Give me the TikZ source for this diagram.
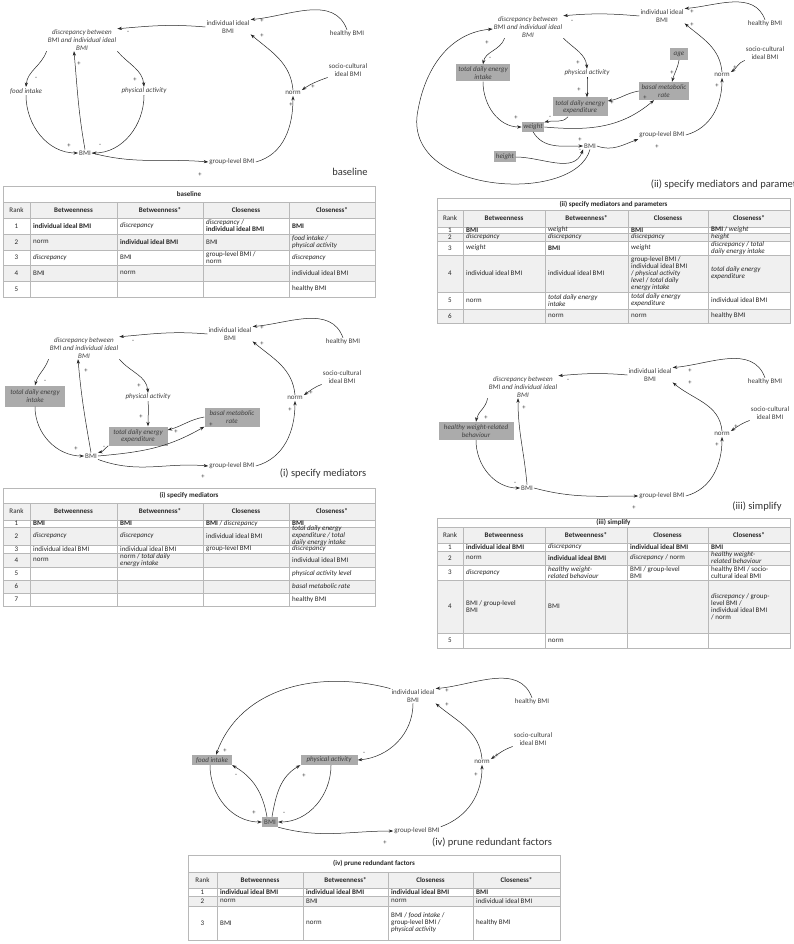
\documentclass[tikz,border=0pt]{standalone}
\usepackage{fontspec}
\setmainfont{Carlito}
\usetikzlibrary{arrows.meta}
\tikzset{
 txt/.style={font=\fontsize{7}{7.6}\selectfont, text=black!75, align=center, inner sep=1pt},
 itx/.style={txt, font=\fontsize{7}{7.6}\selectfont\itshape},
 gbox/.style={itx, fill=black!33, inner sep=1.5pt},
 arr/.style={-{Stealth[length=4.5pt,width=3.2pt]}, black!85, line width=0.5pt},
 sgn/.style={font=\fontsize{6.5}{7}\selectfont, text=black!80, inner sep=0pt},
 lbl/.style={font=\fontsize{10.5}{12}\selectfont, text=black!80, inner sep=0pt},
 tline/.style={draw=black!28, line width=0.6pt},
 tgray/.style={fill=black!6},
 ct/.style={anchor=west, align=left, font=\fontsize{7}{6.9}\selectfont, inner sep=0pt, text=black!85},
 rk/.style={align=center, font=\fontsize{7}{7}\selectfont, inner sep=0pt, text=black!85},
 thd/.style={align=center, font=\fontsize{7}{7}\selectfont\bfseries, inner sep=0pt, text=black!85}
}
\newcommand\sg[3]{\node[sgn] at (#1,-#2) {#3};}
\newcommand\setcols[6]{\def\Xa{#1}\def\Xb{#2}\def\Xc{#3}\def\Xd{#4}\def\Xe{#5}\def\Xf{#6}}
\newcommand\tgrid[4]{%
 \foreach \yy [count=\ii, remember=\yy as \py (initially 0)] in {#1} {%
   \ifodd\ii\relax\ifnum\ii>1\relax \fill[tgray] (\Xa,-\py) rectangle (\Xf,-\yy);\fi\fi}%
 \foreach \yy in {#1} {\draw[tline] (\Xa,-\yy) -- (\Xf,-\yy);}%
 \foreach \xx in {\Xb,\Xc,\Xd,\Xe} {\draw[tline] (\xx,-#3) -- (\xx,-#4);}%
 \draw[tline] (\Xa,-#2) rectangle (\Xf,-#4);%
}
\newcommand\ttitle[2]{\node[thd] at ({(\Xa+\Xf)/2},-#1) {#2};}
\newcommand\thead[1]{%
 \node[rk] at ({(\Xa+\Xb)/2},-#1) {Rank};
 \node[thd] at ({(\Xb+\Xc)/2},-#1) {Betweenness};
 \node[thd] at ({(\Xc+\Xd)/2},-#1) {Betweenness*};
 \node[thd] at ({(\Xd+\Xe)/2},-#1) {Closeness};
 \node[thd] at ({(\Xe+\Xf)/2},-#1) {Closeness*};}
\newcommand\trow[6]{%
 \node[rk] at ({(\Xa+\Xb)/2},-#1) {#2};
 \node[ct] at (\Xb+3,-#1) {#3};
 \node[ct] at (\Xc+3,-#1) {#4};
 \node[ct] at (\Xd+3,-#1) {#5};
 \node[ct] at (\Xe+3,-#1) {#6};}
\begin{document}
\begin{tikzpicture}[x=1pt,y=1pt]
\useasboundingbox (0,0) rectangle (794,-944);
\fill[white] (0,0) rectangle (794,-944);

% ===== baseline diagram
\node[txt] (b-ind) at (228,-27) {individual ideal\\BMI};
\node[itx] (b-dis) at (82,-40) {discrepancy between\\BMI and individual ideal\\BMI};
\node[txt] (b-hea) at (347,-34) {healthy BMI};
\node[txt] (b-soc) at (348,-70) {socio-cultural\\ideal BMI};
\node[txt] (b-nor) at (293,-93) {norm};
\node[itx] (b-foo) at (26,-91) {food intake};
\node[itx] (b-phy) at (144,-91) {physical activity};
\node[txt] (b-bmi) at (85,-153) {BMI};
\node[txt] (b-grp) at (232,-162) {group-level BMI};
\node[lbl] (b-lbl) at (350,-172) {baseline};
\draw[arr] (b-ind.west) to[out=175,in=5] (b-dis.north east); \sg{128}{32}{-}
\draw[arr] (b-hea.north) to[out=110,in=5] (b-ind.north east); \sg{262}{21}{+}
\draw[arr] (b-nor.north) to[out=95,in=-40] (b-ind.south east); \sg{262}{36}{+}
\draw[arr] (b-soc.south west) to[out=200,in=35] (b-nor.north east); \sg{313}{87}{+}
\draw[arr] (b-grp.east) to[out=15,in=-90] (b-nor.south); \sg{291}{105}{+}
\draw[arr] (b-bmi.east) to[out=-15,in=175] (b-grp.west); \sg{200}{175}{+}
\draw[arr] (b-bmi.north) to[out=100,in=-85] ([xshift=-8]b-dis.south); \sg{79}{64}{+}
\draw[arr] (b-dis.south west) to[out=-110,in=85] (b-foo.north); \sg{36}{78}{-}
\draw[arr] (b-dis.south east) to[out=-50,in=95] (b-phy.north); \sg{135}{80}{+}
\draw[arr] (b-foo.south) to[out=-90,in=180] (b-bmi.west); \sg{69}{146}{+}
\draw[arr] (b-phy.south) to[out=-90,in=0] (b-bmi.east); \sg{100}{145}{-}

% ===== baseline table
\setcols{3}{30}{117}{203}{289}{375}
\tgrid{186,202,218,234,250,265,281,297}{186}{202}{297}
\ttitle{194}{baseline}
\thead{210}
\trow{226}{1}{\textbf{individual ideal BMI}}{\textit{discrepancy}}{\textit{discrepancy} /\\\textbf{individual ideal BMI}}{\textbf{BMI}}
\trow{242}{2}{norm}{\textbf{individual ideal BMI}}{BMI}{\textit{food intake /}\\\textit{physical activity}}
\trow{257.5}{3}{\textit{discrepancy}}{BMI}{group-level BMI /\\norm}{\textit{discrepancy}}
\trow{273}{4}{BMI}{norm}{}{individual ideal BMI}
\trow{289}{5}{}{}{}{healthy BMI}

% ===== (i) diagram
\node[txt] (i-ind) at (230,-334) {individual ideal\\BMI};
\node[itx] (i-dis) at (84,-348) {discrepancy between\\BMI and individual ideal\\BMI};
\node[txt] (i-hea) at (343,-342) {healthy BMI};
\node[txt] (i-soc) at (342,-377) {socio-cultural\\ideal BMI};
\node[txt] (i-nor) at (295,-398) {norm};
\node[gbox, minimum width=60, minimum height=21] (i-tdi) at (35,-396) {total daily energy\\intake};
\node[itx] (i-phy) at (148,-397) {physical activity};
\node[gbox, minimum width=55, minimum height=19] (i-bmr) at (232,-417) {basal metabolic\\rate};
\node[gbox, minimum width=59, minimum height=19] (i-tde) at (138,-436) {total daily energy\\expenditure};
\node[txt] (i-bmi) at (91,-456) {BMI};
\node[txt] (i-grp) at (232,-466) {group-level BMI};
\node[lbl] (i-lbl) at (323,-474) {(i) specify mediators};
\draw[arr] (i-ind.west) to[out=175,in=5] (i-dis.north east); \sg{133}{341}{-}
\draw[arr] (i-hea.north) to[out=110,in=5] (i-ind.north east); \sg{262}{328}{+}
\draw[arr] (i-nor.north) to[out=95,in=-40] (i-ind.south east); \sg{262}{344}{+}
\draw[arr] (i-soc.south west) to[out=200,in=35] (i-nor.north east); \sg{311}{393}{+}
\draw[arr] (i-grp.east) to[out=15,in=-90] (i-nor.south); \sg{290}{410}{+}
\draw[arr] (i-bmi.south east) to[out=-20,in=175] (i-grp.west); \sg{203}{477}{+}
\draw[arr] (i-bmi.north) to[out=100,in=-85] ([xshift=-6]i-dis.south); \sg{86}{371}{+}
\draw[arr] (i-dis.south west) to[out=-110,in=75] (i-tdi.north); \sg{45}{381}{-}
\draw[arr] (i-dis.south east) to[out=-50,in=95] (i-phy.north); \sg{139}{386}{+}
\draw[arr] (i-phy.south) to[out=-85,in=90] ([xshift=10]i-tde.north); \sg{141}{417}{+}
\draw[arr] (i-bmr.west) to[out=190,in=15] ([yshift=6]i-tde.east); \sg{176}{432}{+}
\draw[arr] (i-bmi.east) to[out=5,in=210] (i-bmr.south west); \sg{211}{425}{+}
\draw[arr] (i-tde.south west) to[out=-140,in=10] (i-bmi.north east); \sg{104}{447}{-}
\draw[arr] (i-tdi.south) to[out=-90,in=180] (i-bmi.west); \sg{76}{449}{+}

% ===== (i) table
\setcols{3}{30}{117}{203}{289}{375}
\tgrid{488,503,520,527,545,553,567,580,593,606}{488}{503}{606}
\ttitle{495.5}{(i) specify mediators}
\thead{511.5}
\trow{523.5}{1}{\textbf{BMI}}{\textbf{BMI}}{\textbf{BMI} / \textit{discrepancy}}{\textbf{BMI}}
\trow{536}{2}{\textit{discrepancy}}{\textit{discrepancy}}{individual ideal BMI}{\textit{total daily energy}\\\textit{expenditure / total}\\\textit{daily energy intake}}
\trow{549}{3}{individual ideal BMI}{individual ideal BMI}{group-level BMI}{\textit{discrepancy}}
\trow{560}{4}{norm}{norm / \textit{total daily}\\\textit{energy intake}}{}{individual ideal BMI}
\trow{573.5}{5}{}{}{}{\textit{physical activity level}}
\trow{586.5}{6}{}{}{}{\textit{basal metabolic rate}}
\trow{599.5}{7}{}{}{}{healthy BMI}

% ===== (ii) diagram
\node[txt] (ii-ind) at (662,-16) {individual ideal\\BMI};
\node[txt] (ii-hea) at (765,-24) {healthy BMI};
\node[itx] (ii-dis) at (528,-27) {discrepancy between\\BMI and individual ideal\\BMI};
\node[txt] (ii-soc) at (765,-53) {socio-cultural\\ideal BMI};
\node[txt] (ii-nor) at (722,-75) {norm};
\node[gbox, minimum width=18, minimum height=12] (ii-age) at (679,-54) {age};
\node[gbox, minimum width=54, minimum height=17] (ii-tdi) at (483,-73) {total daily energy\\intake};
\node[itx] (ii-phy) at (587,-73) {physical activity};
\node[gbox, minimum width=50, minimum height=18] (ii-bmr) at (664,-91) {basal metabolic\\rate};
\node[gbox, minimum width=55, minimum height=19] (ii-tde) at (580,-107) {total daily energy\\expenditure};
\node[gbox, minimum width=20, minimum height=9] (ii-wei) at (533,-127) {weight};
\node[txt] (ii-bmi) at (590,-146) {BMI};
\node[gbox, minimum width=21, minimum height=11] (ii-hei) at (505,-157) {height};
\node[txt] (ii-grp) at (662,-135) {group-level BMI};
\node[lbl] (ii-lbl) at (730,-185) {(ii) specify mediators and parameters};
\draw[arr] (ii-ind.west) to[out=175,in=5] (ii-dis.north east); \sg{572}{21}{-}
\draw[arr] (ii-hea.north) to[out=110,in=5] (ii-ind.north east); \sg{692}{12}{+}
\draw[arr] (ii-nor.north) to[out=95,in=-40] (ii-ind.south east); \sg{692}{25}{+}
\draw[arr] (ii-soc.south west) to[out=200,in=35] (ii-nor.north east); \sg{735}{68}{+}
\draw[arr] (ii-grp.east) to[out=15,in=-90] (ii-nor.south); \sg{717}{86}{+}
\draw[arr] (ii-bmi.east) to[out=-20,in=200] (ii-grp.south west); \sg{657}{147}{+}
\draw[arr] (ii-bmi.south) .. controls (575,-205) and (400,-195) .. (418,-110) to[out=80,in=185] ([yshift=-2]ii-dis.west); \sg{487}{43}{+}
\draw[arr] ([xshift=12]ii-dis.south west) to[out=-110,in=80] (ii-tdi.north); \sg{490}{58}{-}
\draw[arr] (ii-dis.south east) to[out=-45,in=95] (ii-phy.north); \sg{578}{63}{+}
\draw[arr] (ii-phy.south) to[out=-90,in=90] ([xshift=7]ii-tde.north); \sg{579}{90}{+}
\draw[arr] (ii-age.south) to[out=-100,in=75] ([xshift=8]ii-bmr.north); \sg{672}{73}{+}
\draw[arr] (ii-bmr.west) to[out=190,in=10] ([yshift=6]ii-tde.east); \sg{612}{103}{+}
\draw[arr] (ii-wei.east) to[out=-5,in=220] ([xshift=-10]ii-bmr.south); \sg{645}{98}{+}
\draw[arr] ([xshift=-12]ii-tde.south) to[out=-130,in=15] (ii-wei.north east); \sg{550}{117}{-}
\draw[arr] (ii-tdi.south) to[out=-90,in=180] (ii-wei.west); \sg{516}{118}{+}
\draw[arr] (ii-wei.south) to[out=-60,in=180] (ii-bmi.west); \sg{580}{140}{+}
\draw[arr] (ii-hei.east) to[out=0,in=-110] (ii-bmi.south west); \sg{580}{150}{-}

% ===== (ii) table
\setcols{437}{463}{545}{628}{708}{790}
\tgrid{198,210,227,233,241,255,292,309,323}{198}{210}{323}
\ttitle{204}{(ii) specify mediators and parameters}
\thead{218.5}
\trow{230}{1}{\textbf{BMI}}{\textit{weight}}{\textbf{BMI}}{\textbf{BMI} / \textit{weight}}
\trow{237}{2}{\textit{discrepancy}}{\textit{discrepancy}}{\textit{discrepancy}}{\textit{height}}
\trow{248}{3}{\textit{weight}}{\textbf{BMI}}{\textit{weight}}{\textit{discrepancy} / \textit{total}\\\textit{daily energy intake}}
\trow{273.5}{4}{individual ideal BMI}{individual ideal BMI}{group-level BMI /\\individual ideal BMI\\/ \textit{physical activity}\\\textit{level} / \textit{total daily}\\\textit{energy intake}}{\textit{total daily energy}\\\textit{expenditure}}
\trow{300.5}{5}{norm}{\textit{total daily energy}\\\textit{intake}}{\textit{total daily energy}\\\textit{expenditure}}{individual ideal BMI}
\trow{316}{6}{}{norm}{norm}{healthy BMI}

% ===== (iii) diagram
\node[txt] (iii-ind) at (650,-375) {individual ideal\\BMI};
\node[itx] (iii-dis) at (523,-387) {discrepancy between\\BMI and individual ideal\\BMI};
\node[txt] (iii-hea) at (765,-382) {healthy BMI};
\node[txt] (iii-soc) at (770,-413) {socio-cultural\\ideal BMI};
\node[txt] (iii-nor) at (722,-434) {norm};
\node[gbox, minimum width=75, minimum height=18] (iii-hwb) at (476,-431) {healthy weight-related\\behaviour};
\node[txt] (iii-bmi) at (527,-488) {BMI};
\node[txt] (iii-grp) at (662,-496) {group-level BMI};
\node[lbl] (iii-lbl) at (757,-507) {(iii) simplify};
\draw[arr] (iii-ind.west) to[out=175,in=5] (iii-dis.north east); \sg{568}{380}{-}
\draw[arr] (iii-hea.north) to[out=110,in=5] (iii-ind.north east); \sg{690}{371}{+}
\draw[arr] (iii-nor.north) to[out=95,in=-40] (iii-ind.south east); \sg{690}{383}{+}
\draw[arr] (iii-soc.south west) to[out=200,in=35] (iii-nor.north east); \sg{736}{427}{+}
\draw[arr] (iii-grp.east) to[out=15,in=-90] (iii-nor.south); \sg{717}{445}{+}
\draw[arr] (iii-dis.south west) to[out=-100,in=80] (iii-hwb.north); \sg{486}{418}{+}
\draw[arr] (iii-hwb.south) to[out=-90,in=180] (iii-bmi.west); \sg{515}{483}{-}
\draw[arr] (iii-bmi.north) to[out=95,in=-90] ([xshift=-5]iii-dis.south); \sg{524}{408}{+}
\draw[arr] (iii-bmi.east) to[out=-15,in=180] (iii-grp.west); \sg{634}{508}{+}

% ===== (iii) table
\setcols{437}{463}{545}{627}{708}{790}
\tgrid{518,527,543,551,565,580,633,648}{518}{527}{648}
\ttitle{522.5}{(iii) simplify}
\thead{535}
\trow{547}{1}{\textbf{individual ideal BMI}}{\textit{discrepancy}}{\textbf{individual ideal BMI}}{\textbf{BMI}}
\trow{558}{2}{norm}{\textbf{individual ideal BMI}}{\textit{discrepancy} / norm}{\textit{healthy weight-}\\\textit{related behaviour}}
\trow{572.5}{3}{\textit{discrepancy}}{\textit{healthy weight-}\\\textit{related behaviour}}{BMI / group-level\\BMI}{healthy BMI / socio-\\cultural ideal BMI}
\trow{606.5}{4}{BMI / group-level\\BMI}{BMI}{}{\textit{discrepancy} / group-\\level BMI /\\individual ideal BMI\\/ norm}
\trow{640.5}{5}{}{norm}{}{}

% ===== (iv) diagram
\node[txt] (iv-ind) at (413,-696) {individual ideal\\BMI};
\node[txt] (iv-hea) at (532,-702) {healthy BMI};
\node[txt] (iv-soc) at (533,-739) {socio-cultural\\ideal BMI};
\node[txt] (iv-nor) at (482,-762) {norm};
\node[gbox, minimum width=40, minimum height=10] (iv-foo) at (212,-760) {food intake};
\node[gbox, minimum width=57, minimum height=10] (iv-phy) at (329,-760) {physical activity};
\node[gbox, font=\fontsize{7}{7.6}\selectfont, minimum width=16, minimum height=10] (iv-bmi) at (270,-822) {BMI};
\node[txt] (iv-grp) at (417,-831) {group-level BMI};
\node[lbl] (iv-lbl) at (492,-842) {(iv) prune redundant factors};
\draw[arr] (iv-ind.north west) to[out=165,in=70] ([xshift=4]iv-foo.north); \sg{225}{751}{+}
\draw[arr] (iv-ind.south) to[out=-90,in=5] (iv-phy.east); \sg{364}{753}{-}
\draw[arr] ([xshift=-3]iv-bmi.north) to[out=100,in=-30] (iv-foo.south east); \sg{236}{775}{-}
\draw[arr] ([xshift=2]iv-bmi.north) to[out=80,in=210] (iv-phy.south west); \sg{304}{776}{+}
\draw[arr] ([xshift=-2]iv-foo.south) to[out=-90,in=180] (iv-bmi.west); \sg{254}{813}{+}
\draw[arr] ([xshift=2]iv-phy.south) to[out=-90,in=0] (iv-bmi.east); \sg{284}{813}{-}
\draw[arr] (iv-bmi.south east) to[out=-15,in=180] (iv-grp.west); \sg{385}{843}{+}
\draw[arr] (iv-grp.north east) to[out=20,in=-90] (iv-nor.south); \sg{476}{775}{+}
\draw[arr] (iv-nor.north) to[out=95,in=-40] (iv-ind.south east); \sg{447}{705}{+}
\draw[arr] (iv-hea.north) to[out=110,in=5] (iv-ind.north east); \sg{447}{691}{+}
\draw[arr] (iv-soc.south west) to[out=200,in=35] (iv-nor.north east); \sg{497}{756}{+}

% ===== (iv) table
\setcols{188}{217}{303}{388}{473}{560}
\tgrid{855,872,888,896,906,940}{855}{872}{940}
\ttitle{863.5}{(iv) prune redundant factors}
\thead{880}
\trow{892}{1}{\textbf{individual ideal BMI}}{\textbf{individual ideal BMI}}{\textbf{individual ideal BMI}}{\textbf{BMI}}
\trow{901}{2}{norm}{BMI}{norm}{individual ideal BMI}
\trow{923}{3}{BMI}{norm}{BMI / \textit{food intake} /\\group-level BMI /\\\textit{physical activity}}{healthy BMI}
\end{tikzpicture}
\end{document}
